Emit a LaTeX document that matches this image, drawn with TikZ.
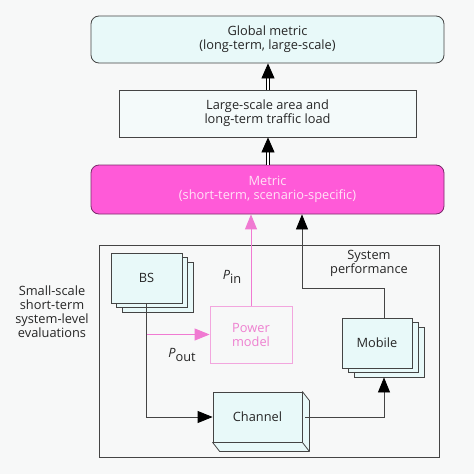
\documentclass[tikz,border=0pt]{standalone}
\usepackage{fontspec}
\setmainfont{Open Sans}
\usetikzlibrary{arrows.meta,calc}
\definecolor{bgc}{HTML}{F7F8F8}
\definecolor{cyanf}{HTML}{E8F9F9}
\definecolor{lightf}{HTML}{F4FAFA}
\definecolor{edgec}{HTML}{444444}
\definecolor{magf}{HTML}{FF5AD8}
\definecolor{mage}{HTML}{7A2A6A}
\definecolor{pinkl}{HTML}{F07AD2}
\definecolor{pinkb}{HTML}{F2A6DE}
\definecolor{pinkt}{HTML}{EE80D0}
\definecolor{magt}{HTML}{FFE2F6}
\tikzset{
  x=1pt, y=-1pt,
  every node/.style={font=\fontsize{12.8}{14}\selectfont, align=center, inner sep=0pt, text=black!85},
  bigbox/.style={draw=edgec, line width=0.8pt, rounded corners=8pt, minimum width=353pt},
  plainbox/.style={draw=edgec, line width=0.8pt, fill=lightf, minimum width=297pt, minimum height=47pt},
  stackbox/.style={draw=edgec, line width=0.8pt, fill=cyanf},
  conn/.style={draw=edgec, line width=0.8pt},
  tip/.style={-{Triangle[length=15pt,width=12pt]}},
  btip/.style={-{Triangle[length=15pt,width=12pt,color=black]}},
  dbl/.style={double=white, double distance=2.6pt, line width=0.8pt, draw=black, -{Triangle[length=15pt,width=13pt]}},
}
\newcommand{\Psub}[1]{\textit{P}\raisebox{-0.5ex}{#1}}
\begin{document}
\begin{tikzpicture}
\fill[bgc] (0,0) rectangle (474,474);
\useasboundingbox (0,0) rectangle (474,474);

% top boxes
\node[bigbox, fill=cyanf, minimum height=47pt] (glob) at (267.5,39.5) {Global metric\\(long-term, large-scale)};
\node[plainbox] (large) at (267.5,113.5) {Large-scale area and\\long-term traffic load};
\node[bigbox, fill=magf, draw=mage, minimum height=49pt, text=magt] (metric) at (267.5,189.5) {Metric\\(short-term, scenario-specific)};

\draw[dbl] (large.north -| 268,0) -- (glob.south -| 268,0);
\draw[dbl] (metric.north -| 268,0) -- (large.south -| 268,0);

% system box
\node[draw=edgec, line width=0.8pt, fill=bgc, minimum width=340pt, minimum height=212pt] (sys) at (269,351) {};

\node (lbl) at (52,311.5) {Small-scale\\short-term\\system-level\\evaluations};

% BS stack
\node[stackbox, minimum width=71pt, minimum height=50pt] (bs3) at (157.5,287) {};
\node[stackbox, minimum width=71pt, minimum height=50pt] (bs2) at (152,282.5) {};
\node[stackbox, minimum width=71pt, minimum height=50pt] (bs) at (146.5,278) {BS};

% Mobile stack
\node[stackbox, minimum width=70pt, minimum height=50pt] (mo3) at (389,352) {};
\node[stackbox, minimum width=70pt, minimum height=50pt] (mo2) at (383,347.5) {};
\node[stackbox, minimum width=70pt, minimum height=50pt] (mo) at (377,343) {Mobile};

% Power model
\node[draw=pinkb, line width=0.8pt, fill=bgc, text=pinkt, minimum width=82pt, minimum height=57pt] (pm) at (251,334.5) {Power\\model};

% Channel 3D
\node[stackbox, minimum width=89pt, minimum height=50pt] (ch) at (257.5,417) {Channel};
\filldraw[fill=cyanf, draw=edgec, line width=0.8pt, line join=round]
  (ch.north east) -- ++(7,9) -- ($(ch.south east)+(7,9)$) -- ($(ch.south west)+(7,9)$) -- (ch.south west) -- (ch.south east) -- cycle;
\draw[edgec, line width=0.8pt] (ch.south east) -- ++(7,9);

% connectors
\draw[conn, btip] (bs.south) |- (ch.west);
\draw[pinkl, line width=0.9pt, tip] (bs.south |- pm.west) -- (pm.west);
\draw[pinkl, line width=0.9pt, tip] (pm.north) -- (pm.north |- metric.south);
\coordinate (spk) at (302,288);
\draw[conn, btip] (mo.north -| 384,0) |- (spk) -- (spk |- metric.south);
\coordinate (chout) at ($(ch.east)+(3,0)$);
\draw[conn, btip] (chout) -| (mo3.south -| 384,0);

% labels
\node (pin) at (232,277) {\Psub{in}};
\node (pout) at (182,355) {\Psub{out}};
\node (sp) at (369,263.5) {System\\performance};
\end{tikzpicture}
\end{document}
